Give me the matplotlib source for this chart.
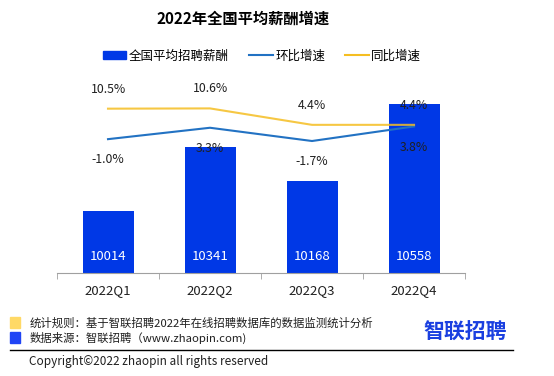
import matplotlib
matplotlib.use("Agg")
import matplotlib.pyplot as plt
from matplotlib.patches import Rectangle, Patch
from matplotlib.lines import Line2D

plt.rcParams['font.family'] = ['Noto Sans CJK SC', 'DejaVu Sans']

# data
quarters = ['2022Q1', '2022Q2', '2022Q3', '2022Q4']
salary = [10014, 10341, 10168, 10558]
mom = [-1.0, 3.3, -1.7, 3.8]      # 环比增速
yoy = [10.5, 10.6, 4.4, 4.4]      # 同比增速

bar_color = '#0038E6'
mom_color = '#2272C3'
yoy_color = '#F5BE22'

fig = plt.figure(figsize=(5.54, 3.76), dpi=100)
ax = fig.add_axes([0.1029, 0.2739, 0.7365, 0.540])
x = list(range(len(quarters)))

ax.bar(x, salary, width=0.5, color=bar_color, zorder=2)
ax.set_ylim(9699, 10731)
ax.set_xlim(-0.5, 3.5)
for s in ['top', 'left', 'right']:
    ax.spines[s].set_visible(False)
ax.spines['bottom'].set_color('#A0A0A0')
ax.set_yticks([])
ax.set_xticks(x)
ax.set_xticklabels(quarters, fontsize=9.5, color='#202020')
ax.tick_params(axis='x', which='major', length=0, pad=8)
ax.set_xticks([-0.5, 0.5, 1.5, 2.5, 3.5], minor=True)
ax.tick_params(axis='x', which='minor', length=4, color='#A0A0A0')

for xi, v in zip(x, salary):
    ax.annotate(str(v), xy=(xi, 9699), xytext=(0, 12), textcoords='offset points',
                ha='center', va='center', color='white', fontsize=9.5)

ax2 = ax.twinx()
ax2.set_ylim(-51.5, 25.1)
ax2.axis('off')
ax2.plot(x, mom, color=mom_color, lw=1.5, zorder=3)
ax2.plot(x, yoy, color=yoy_color, lw=1.5, alpha=0.85, zorder=4)

for xi, v in zip(x, yoy):
    ax2.annotate(f'{v:.1f}%', xy=(xi, v), xytext=(0, 14), textcoords='offset points',
                 ha='center', va='center', fontsize=8.8, color='#202020')
for xi, v in zip(x, mom):
    ax2.annotate(f'{v:.1f}%', xy=(xi, v), xytext=(0, -15), textcoords='offset points',
                 ha='center', va='center', fontsize=8.8, color='#202020')

fig.text(243 / 554, 1 - 19 / 376, '2022年全国平均薪酬增速', ha='center', va='center',
         fontsize=11, fontweight='bold')

handles = [Patch(color=bar_color),
           Line2D([], [], color=mom_color, lw=1.5),
           Line2D([], [], color=yoy_color, lw=1.5)]
fig.legend(handles, ['全国平均招聘薪酬', '环比增速', '同比增速'], ncol=3,
           loc='center', bbox_to_anchor=(262 / 554, 1 - 56 / 376), frameon=False,
           fontsize=9, handlelength=1.9, handleheight=0.6, handletextpad=0.2,
           columnspacing=1.6, borderpad=0)

# footer
fig.patches.append(Rectangle((10 / 554, 1 - 328 / 376), 10 / 554, 11 / 376,
                             transform=fig.transFigure, color='#FFD966'))
fig.patches.append(Rectangle((10 / 554, 1 - 343 / 376), 10 / 554, 11 / 376,
                             transform=fig.transFigure, color='#1F44F5'))
fig.text(30 / 554, 1 - 323 / 376, '统计规则：基于智联招聘2022年在线招聘数据库的数据监测统计分析',
         fontsize=8.2, va='center', color='#202020')
fig.text(30 / 554, 1 - 338 / 376, '数据来源：智联招聘（www.zhaopin.com)',
         fontsize=8.2, va='center', color='#202020')
fig.lines.append(Line2D([10 / 554, 513 / 554], [1 - 350 / 376] * 2,
                        transform=fig.transFigure, color='black', lw=1))
fig.text(29 / 554, 1 - 362 / 376, 'Copyright©2022 zhaopin all rights reserved',
         fontsize=8.5, va='center', color='#202020')
fig.text(465 / 554, 1 - 332 / 376, '智联招聘', fontsize=15, fontweight='bold',
         ha='center', va='center', color='#1A3FE0')

fig.savefig('out.png', dpi=100)
